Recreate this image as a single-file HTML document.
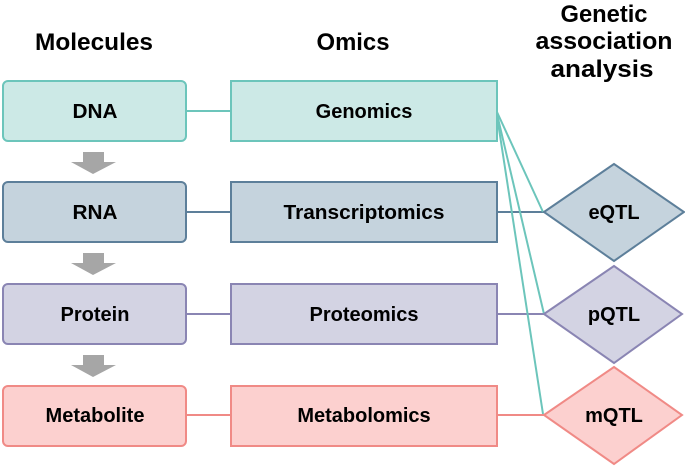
<!DOCTYPE html>
<html><head><meta charset="utf-8"><style>html,body{margin:0;padding:0;background:#fff}svg{display:block}</style></head>
<body>
<svg width="685" height="468" viewBox="0 0 685 468" xmlns="http://www.w3.org/2000/svg" font-family="'Liberation Sans',sans-serif" font-weight="bold">
<g font-size="24" text-anchor="middle" fill="#000">
<text x="94" y="50" textLength="118" lengthAdjust="spacingAndGlyphs">Molecules</text>
<text x="353" y="50" textLength="73" lengthAdjust="spacingAndGlyphs">Omics</text>
<text x="604" y="22" textLength="87" lengthAdjust="spacingAndGlyphs">Genetic</text>
<text x="604" y="49" textLength="137" lengthAdjust="spacingAndGlyphs">association</text>
<text x="602" y="77" textLength="103" lengthAdjust="spacingAndGlyphs">analysis</text>
</g>
<g stroke-width="2" fill="none">
<line x1="186" y1="111" x2="231" y2="111" stroke="#6cc5bb"/>
<line x1="186" y1="212" x2="231" y2="212" stroke="#5d7f9a"/>
<line x1="186" y1="314" x2="231" y2="314" stroke="#8a85b3"/>
<line x1="186" y1="415" x2="231" y2="415" stroke="#f08a86"/>
<line x1="497" y1="212" x2="544" y2="212" stroke="#5d7f9a"/>
<line x1="497" y1="314" x2="544" y2="314" stroke="#8a85b3"/>
<line x1="497" y1="415" x2="544" y2="415" stroke="#f08a86"/>
<line x1="497" y1="112" x2="543" y2="212" stroke="#6cc5bb"/>
<line x1="497" y1="114" x2="544" y2="314" stroke="#6cc5bb"/>
<line x1="497" y1="116" x2="543" y2="414" stroke="#6cc5bb"/>
</g>
<g stroke-width="2">
<rect x="3" y="81" width="183" height="60" rx="5" fill="#cce9e6" stroke="#6cc5bb"/>
<rect x="3" y="182" width="183" height="60" rx="5" fill="#c5d3dd" stroke="#5d7f9a"/>
<rect x="3" y="284" width="183" height="60" rx="5" fill="#d3d3e3" stroke="#8a85b3"/>
<rect x="3" y="386" width="183" height="60" rx="5" fill="#fcd0cf" stroke="#f08a86"/>
<rect x="231" y="81" width="266" height="60" fill="#cce9e6" stroke="#6cc5bb"/>
<rect x="231" y="182" width="266" height="60" fill="#c5d3dd" stroke="#5d7f9a"/>
<rect x="231" y="284" width="266" height="60" fill="#d3d3e3" stroke="#8a85b3"/>
<rect x="231" y="386" width="266" height="60" fill="#fcd0cf" stroke="#f08a86"/>
<polygon points="544,212 614,164 684,212 614,261" fill="#c5d3dd" stroke="#5d7f9a"/>
<polygon points="544,314 614,266 682,314 614,363" fill="#d3d3e3" stroke="#8a85b3"/>
<polygon points="544,415 614,367 682,415 614,464" fill="#fcd0cf" stroke="#f08a86"/>
</g>
<g fill="#a6a6a6">
<polygon points="83,152 104,152 104,162 116,162 93,174 71,162 83,162"/>
<polygon points="83,253 104,253 104,263 116,263 93,275 71,263 83,263"/>
<polygon points="83,355 104,355 104,365 116,365 93,377 71,365 83,365"/>
</g>
<g font-size="20" text-anchor="middle" fill="#000">
<text x="95" y="118" textLength="45" lengthAdjust="spacingAndGlyphs">DNA</text>
<text x="95" y="219" textLength="45" lengthAdjust="spacingAndGlyphs">RNA</text>
<text x="95" y="321">Protein</text>
<text x="95" y="422">Metabolite</text>
<text x="364" y="118">Genomics</text>
<text x="364" y="219" textLength="161" lengthAdjust="spacingAndGlyphs">Transcriptomics</text>
<text x="364" y="321">Proteomics</text>
<text x="364" y="422">Metabolomics</text>
<text x="614" y="219">eQTL</text>
<text x="614" y="321">pQTL</text>
<text x="614" y="422">mQTL</text>
</g>
</svg>
</body></html>
